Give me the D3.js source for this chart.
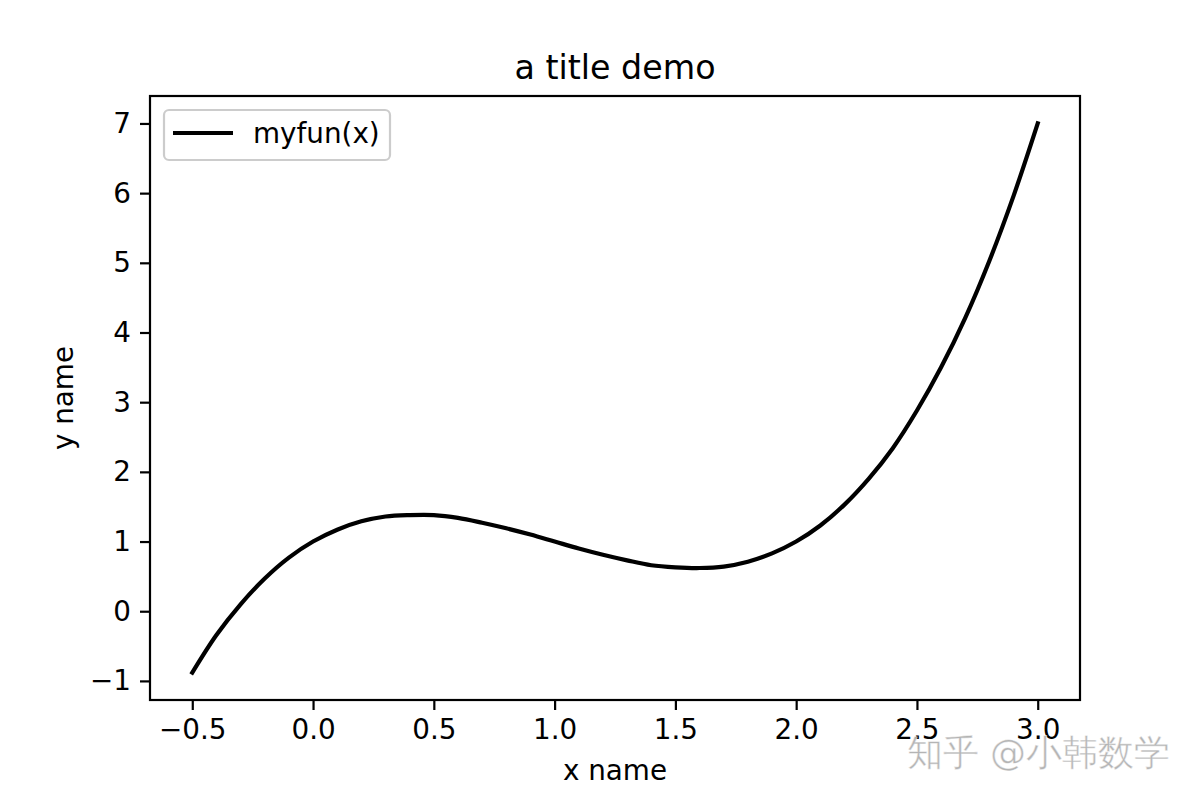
<!DOCTYPE html>
<html>
<head>
<meta charset="utf-8">
<script src="https://cdn.jsdelivr.net/npm/d3@7"></script>
<style>
  html, body { margin: 0; padding: 0; background: #fff; }
  svg { display: block; }
  text { font-family: "DejaVu Sans", sans-serif; fill: #000; }
</style>
</head>
<body>
<svg id="chart" width="1200" height="800"></svg>
<script>
// Data
const xValues = [-0.5, -0.4, -0.3, -0.2, -0.1, 0.0, 0.1, 0.2, 0.3, 0.4, 0.5, 0.6, 0.7, 0.8, 0.9, 1.0,
                 1.1, 1.2, 1.3, 1.4, 1.5, 1.6, 1.7, 1.8, 1.9, 2.0, 2.1, 2.2, 2.3, 2.4, 2.5, 2.6, 2.7, 2.8, 2.9, 3.0];
const yValues = [-0.88, -0.34, 0.10, 0.47, 0.77, 1.00, 1.17, 1.29, 1.36, 1.38, 1.38, 1.34, 1.27, 1.19, 1.10, 1.00,
                 0.90, 0.81, 0.73, 0.66, 0.63, 0.62, 0.64, 0.71, 0.83, 1.00, 1.23, 1.53, 1.90, 2.34, 2.88, 3.50, 4.21, 5.03, 5.96, 7.00];
const xTicks = [-0.5, 0.0, 0.5, 1.0, 1.5, 2.0, 2.5, 3.0];
const yTicks = [-1, 0, 1, 2, 3, 4, 5, 6, 7];
const seriesName = "myfun(x)";
const titleText = "a title demo";
const xLabel = "x name";
const yLabel = "y name";
const watermark = "知乎 @小韩数学";

const svg = d3.select("#chart");
const mLeft = 150, mRight = 1080, mTop = 96, mBottom = 700;

const xExt = d3.extent(xValues), yExt = d3.extent(yValues);
const xm = (xExt[1] - xExt[0]) * 0.05, ym = (yExt[1] - yExt[0]) * 0.05;
const x = d3.scaleLinear().domain([xExt[0] - xm, xExt[1] + xm]).range([mLeft, mRight]);
const y = d3.scaleLinear().domain([yExt[0] - ym, yExt[1] + ym]).range([mBottom, mTop]);

const fmtMinus = s => s.replace("-", "\u2212");

// Curve
const line = d3.line().x((d, i) => x(xValues[i])).y(d => y(d)).curve(d3.curveCatmullRom.alpha(0.5));
svg.append("path")
  .datum(yValues)
  .attr("d", line)
  .attr("fill", "none")
  .attr("stroke", "#000")
  .attr("stroke-width", 4.2)
  .attr("stroke-linecap", "square");

// Axes
const xAxis = d3.axisBottom(x).tickValues(xTicks).tickSize(10).tickPadding(9)
  .tickFormat(d => fmtMinus(d3.format(".1f")(d)));
const yAxis = d3.axisLeft(y).tickValues(yTicks).tickSize(10).tickPadding(9)
  .tickFormat(d => fmtMinus(d3.format("d")(d)));

const gx = svg.append("g").attr("transform", `translate(0,${mBottom})`).call(xAxis);
const gy = svg.append("g").attr("transform", `translate(${mLeft},0)`).call(yAxis);
[gx, gy].forEach(g => {
  g.select(".domain").remove();
  g.selectAll(".tick line").attr("stroke", "#000").attr("stroke-width", 2.2);
  g.selectAll(".tick text").attr("font-size", 27.8).attr("font-family", "DejaVu Sans").attr("fill", "#000");
});

// Frame
svg.append("rect")
  .attr("x", mLeft).attr("y", mTop)
  .attr("width", mRight - mLeft).attr("height", mBottom - mTop)
  .attr("fill", "none").attr("stroke", "#000").attr("stroke-width", 2.2);

// Title and labels
svg.append("text").attr("x", (mLeft + mRight) / 2).attr("y", 79)
  .attr("text-anchor", "middle").attr("font-size", 33.3).text(titleText);
svg.append("text").attr("x", (mLeft + mRight) / 2).attr("y", 780)
  .attr("text-anchor", "middle").attr("font-size", 27.8).text(xLabel);
svg.append("text").attr("transform", `translate(73,${(mTop + mBottom) / 2}) rotate(-90)`)
  .attr("text-anchor", "middle").attr("font-size", 27.8).text(yLabel);

// Legend
const lg = svg.append("g");
lg.append("rect").attr("x", 164).attr("y", 110).attr("width", 226).attr("height", 50)
  .attr("rx", 5).attr("fill", "#fff").attr("fill-opacity", 0.8)
  .attr("stroke", "#ccc").attr("stroke-width", 2.2);
lg.append("line").attr("x1", 173).attr("x2", 233).attr("y1", 133).attr("y2", 133)
  .attr("stroke", "#000").attr("stroke-width", 4.2);
lg.append("text").attr("x", 253).attr("y", 143).attr("font-size", 27.8).text(seriesName);

// Watermark
svg.append("text").attr("x", 1170).attr("y", 765).attr("text-anchor", "end")
  .attr("font-family", "Noto Sans CJK SC").attr("font-size", 36)
  .style("fill", "#a0a0a0").attr("fill-opacity", 0.8)
  .attr("stroke", "#ffffff").attr("stroke-width", 1).attr("stroke-opacity", 0.6)
  .text(watermark);
</script>
</body>
</html>
